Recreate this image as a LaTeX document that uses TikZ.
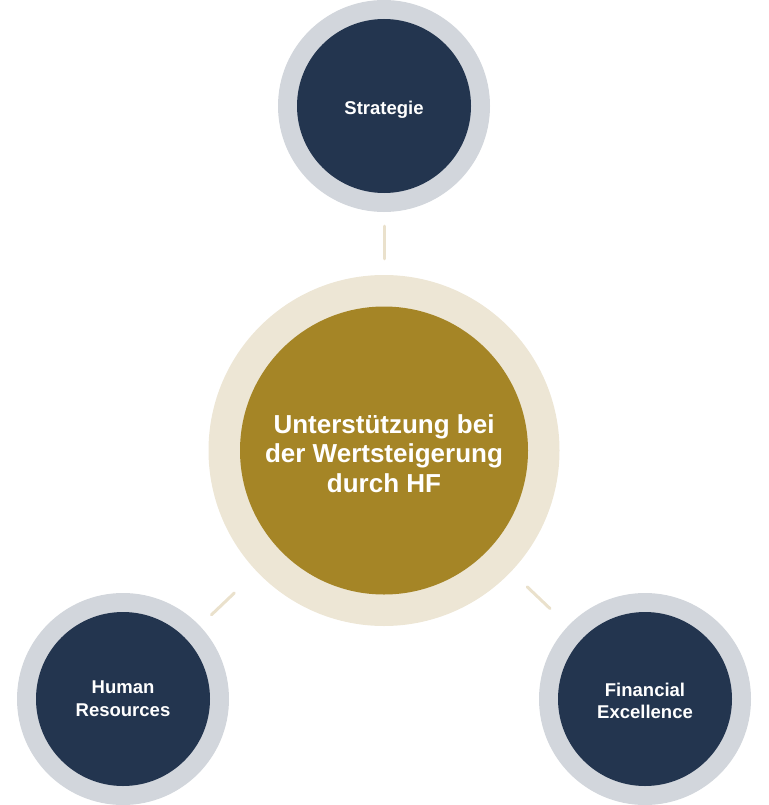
\documentclass[tikz,border=0pt]{standalone}
\usepackage{fontspec}
\setmainfont{Liberation Sans}
\definecolor{navy}{HTML}{23354F}
\definecolor{greyring}{HTML}{D2D6DC}
\definecolor{gold}{HTML}{A58526}
\definecolor{beigering}{HTML}{EDE6D5}
\definecolor{connbeige}{HTML}{EAE1CC}
\tikzset{
  ringnode/.style={circle, inner sep=0pt, draw=none},
  greyouter/.style={ringnode, fill=greyring, minimum size=212pt},
  navyinner/.style={ringnode, fill=navy, minimum size=174pt},
  beigeouter/.style={ringnode, fill=beigering, minimum size=351pt},
  goldinner/.style={ringnode, fill=gold, minimum size=288pt},
  smalltext/.style={inner sep=0pt, text=white, align=center,
    font=\bfseries\fontsize{18.5}{22.5}\selectfont},
  bigtext/.style={inner sep=0pt, text=white, align=center,
    font=\bfseries\fontsize{26}{29.5}\selectfont},
  conn/.style={draw=connbeige, line width=3pt, line cap=round}
}
\begin{document}
\begin{tikzpicture}[x=1pt, y=-1pt]
\useasboundingbox (0,0) rectangle (768,805);
% top
\node[greyouter] (sR) at (384,106) {};
\node[navyinner] (s) at (384,106) {};
\node[smalltext] (sT) at (384,110) {Strategie};
% center
\node[beigeouter] (cR) at (384,450.5) {};
\node[goldinner] (c) at (384,450.5) {};
\node[bigtext] (cT) at (384,453.5) {Unterstützung bei\\der Wertsteigerung\\durch HF};
% left
\node[greyouter] (lR) at (123,699) {};
\node[navyinner] (l) at (123,699) {};
\node[smalltext] (lT) at (123,698.5) {Human\\Resources};
% right
\node[greyouter] (rR) at (645,699) {};
\node[navyinner] (r) at (645,699) {};
\node[smalltext] (rT) at (645,701) {Financial\\Excellence};
% connectors
\draw[conn, shorten <=14pt, shorten >=16pt] (sR) -- (cR);
\draw[conn, shorten <=16pt, shorten >=31pt] (lR) -- (cR);
\draw[conn, shorten <=22pt, shorten >=25pt] (cR) -- (rR);
\end{tikzpicture}
\end{document}
